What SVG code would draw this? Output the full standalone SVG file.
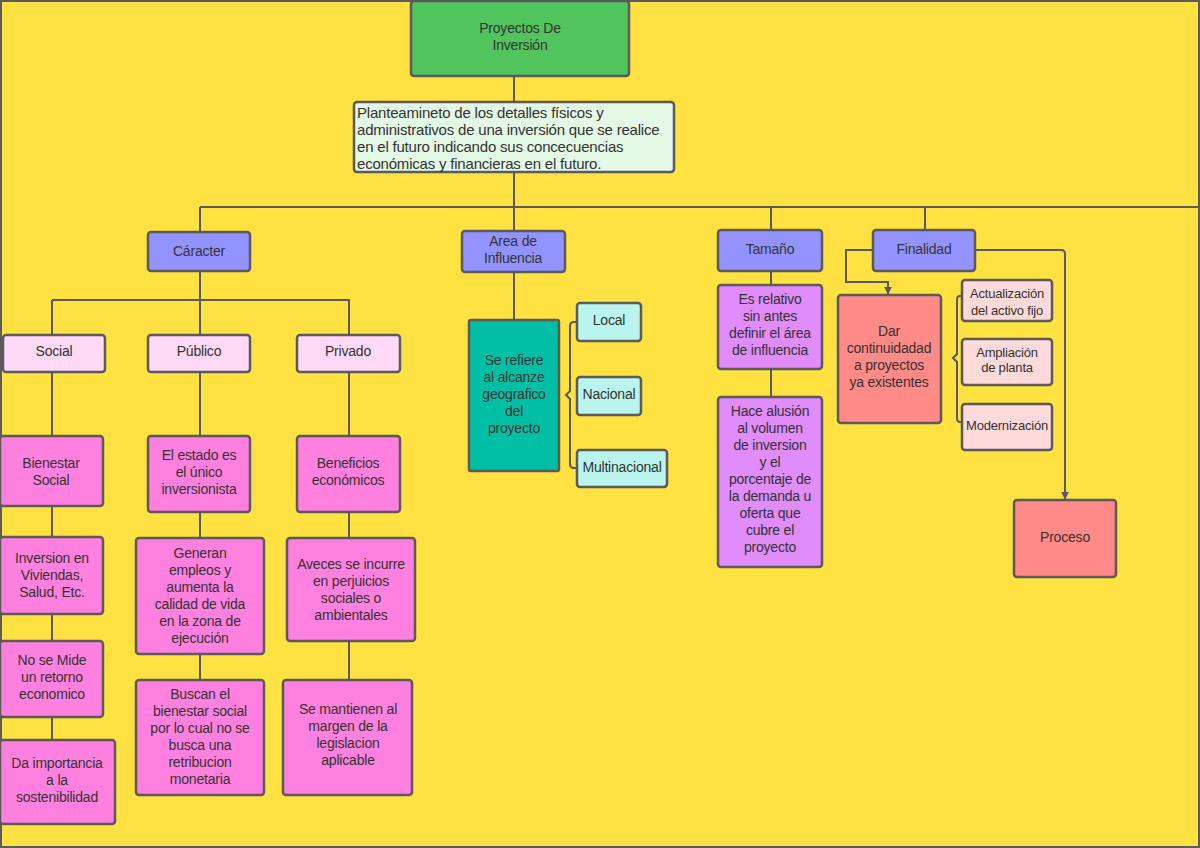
<svg xmlns="http://www.w3.org/2000/svg" width="1200" height="848" viewBox="0 0 1200 848">
<defs>
<marker id="ar" viewBox="0 0 10 10" refX="9" refY="5" markerWidth="8" markerHeight="8" orient="auto" markerUnits="userSpaceOnUse"><path d="M0,0 L10,5 L0,10 z" fill="#5a5a5a"/></marker>
<style>
.n{stroke:#5a5a5a;stroke-width:2.5}
.c{fill:none;stroke:#5a5a5a;stroke-width:2}
text{font-family:"Liberation Sans",Arial,sans-serif;font-size:14px;fill:#333;text-anchor:middle;letter-spacing:-0.2px}
.l{text-anchor:start;font-size:15px}
.g{fill:#52C45E}.d{fill:#E3F9E5}.b{fill:#9393FF}.p{fill:#FFD9F5}.m{fill:#FF80DF}.t{fill:#00BFA5}.lt{fill:#B9F5EC}.v{fill:#E08CFA}.r{fill:#FF8A87}.rl{fill:#FFDADA}
</style>
</defs>
<rect x="1" y="1" width="1198" height="846" fill="#FFE241" stroke="#5a5a5a" stroke-width="2"/>
<g id="connectors">
<path class="c" d="M514 76V102M514 172V207M200 207H1198M200 207V232M514 207V231M771 207V230M925 207V230"/>
<path class="c" d="M200 271V300M52 300H350M52 300V335M200 300V335M349 300V335"/>
<path class="c" d="M52 372V436M52 506V537M52 614V641M52 717V740"/>
<path class="c" d="M200 372V436M200 512V538M200 654V680"/>
<path class="c" d="M349 372V436M349 512V538M349 641V680"/>
<path class="c" d="M514 272V320"/>
<path class="c" d="M577 322H574Q570 322 570 326V391L566 395L570 399V464Q570 468 574 468H577"/>
<path class="c" d="M771 271V285M771 369V397"/>
<path class="c" d="M873 250H846V282H888V294" marker-end="url(#ar)"/>
<path class="c" d="M975 250H1061Q1065 250 1065 254V499" marker-end="url(#ar)"/>
<path class="c" d="M962 296H960Q957 296 957 300V354L953 358L957 362V418Q957 422 960 422H962"/>
</g>
<g id="root"><rect class="n g" x="411" y="1" width="218" height="75" rx="3"/><text x="520" y="33">Proyectos De</text><text x="520" y="50">Inversión</text></g>
<g id="desc"><rect class="n d" x="354" y="102" width="320" height="70" rx="3"/>
<text class="l" x="357" y="118">Planteamineto de los detalles físicos y</text>
<text class="l" x="357" y="135">administrativos de una inversión que se realice</text>
<text class="l" x="357" y="152">en el futuro indicando sus concecuencias</text>
<text class="l" x="357" y="169">económicas y  financieras en el futuro.</text></g>
<g id="caracter"><rect class="n b" x="148" y="232" width="102" height="39" rx="3"/><text x="199" y="256">Cáracter</text></g>
<g id="area"><rect class="n b" x="462" y="231" width="103" height="41" rx="3"/><text x="513" y="246">Area de</text><text x="513" y="263">Influencia</text></g>
<g id="tamano"><rect class="n b" x="718" y="230" width="104" height="41" rx="3"/><text x="770" y="254">Tamaño</text></g>
<g id="finalidad"><rect class="n b" x="873" y="230" width="102" height="41" rx="3"/><text x="924" y="254">Finalidad</text></g>
<g id="social"><rect class="n p" x="3" y="335" width="102" height="37" rx="3"/><text x="54" y="356">Social</text></g>
<g id="publico"><rect class="n p" x="148" y="335" width="102" height="37" rx="3"/><text x="199" y="356">Público</text></g>
<g id="privado"><rect class="n p" x="297" y="335" width="103" height="37" rx="3"/><text x="348" y="356">Privado</text></g>
<g id="bienestar"><rect class="n m" x="0" y="436" width="103" height="70" rx="3"/><text x="51" y="468">Bienestar</text><text x="51" y="485">Social</text></g>
<g id="inversion"><rect class="n m" x="0" y="537" width="103" height="77" rx="3"/><text x="52" y="563">Inversion en</text><text x="52" y="580">Viviendas,</text><text x="52" y="597">Salud, Etc.</text></g>
<g id="nomide"><rect class="n m" x="0" y="641" width="103" height="76" rx="3"/><text x="52" y="665">No se Mide</text><text x="52" y="682">un retorno</text><text x="52" y="699">economico</text></g>
<g id="importancia"><rect class="n m" x="0" y="740" width="115" height="84" rx="3"/><text x="57" y="768">Da importancia</text><text x="57" y="785">a la</text><text x="57" y="802">sostenibilidad</text></g>
<g id="estado"><rect class="n m" x="148" y="436" width="102" height="76" rx="3"/><text x="199" y="460">El estado es</text><text x="199" y="477">el único</text><text x="199" y="494">inversionista</text></g>
<g id="generan"><rect class="n m" x="136" y="538" width="128" height="116" rx="3"/><text x="200" y="558">Generan</text><text x="200" y="575">empleos y</text><text x="200" y="592">aumenta la</text><text x="200" y="609">calidad de vida</text><text x="200" y="626">en la zona de</text><text x="200" y="643">ejecución</text></g>
<g id="buscan"><rect class="n m" x="136" y="680" width="128" height="115" rx="3"/><text x="200" y="699">Buscan el</text><text x="200" y="716">bienestar social</text><text x="200" y="733">por lo cual no se</text><text x="200" y="750">busca una</text><text x="200" y="767">retribucion</text><text x="200" y="784">monetaria</text></g>
<g id="beneficios"><rect class="n m" x="297" y="436" width="103" height="76" rx="3"/><text x="348" y="468">Beneficios</text><text x="348" y="485">económicos</text></g>
<g id="aveces"><rect class="n m" x="287" y="538" width="128" height="103" rx="3"/><text x="351" y="569">Aveces se incurre</text><text x="351" y="586">en perjuicios</text><text x="351" y="603">sociales o</text><text x="351" y="620">ambientales</text></g>
<g id="mantienen"><rect class="n m" x="283" y="680" width="129" height="115" rx="3"/><text x="348" y="714">Se mantienen al</text><text x="348" y="731">margen de la</text><text x="348" y="748">legislacion</text><text x="348" y="765">aplicable</text></g>
<g id="refiere"><rect class="n t" x="469" y="320" width="90" height="151" rx="2"/><text x="514" y="365">Se refiere</text><text x="514" y="382">al alcanze</text><text x="514" y="399">geografico</text><text x="514" y="416">del</text><text x="514" y="433">proyecto</text></g>
<g id="local"><rect class="n lt" x="577" y="303" width="64" height="38" rx="3"/><text x="609" y="325">Local</text></g>
<g id="nacional"><rect class="n lt" x="577" y="377" width="64" height="38" rx="3"/><text x="609" y="399">Nacional</text></g>
<g id="multinacional"><rect class="n lt" x="577" y="450" width="90" height="37" rx="3"/><text x="622" y="472">Multinacional</text></g>
<g id="relativo"><rect class="n v" x="718" y="285" width="104" height="84" rx="3"/><text x="770" y="304">Es relativo</text><text x="770" y="321">sin antes</text><text x="770" y="338">definir el área</text><text x="770" y="355">de influencia</text></g>
<g id="alusion"><rect class="n v" x="718" y="397" width="104" height="170" rx="3"/><text x="770" y="416">Hace alusión</text><text x="770" y="433">al volumen</text><text x="770" y="450">de inversion</text><text x="770" y="467">y el</text><text x="770" y="484">porcentaje de</text><text x="770" y="501">la demanda u</text><text x="770" y="518">oferta que</text><text x="770" y="535">cubre el</text><text x="770" y="552">proyecto</text></g>
<g id="dar"><rect class="n r" x="838" y="295" width="103" height="128" rx="3"/><text x="889" y="336">Dar</text><text x="889" y="353">continuidadad</text><text x="889" y="370">a proyectos</text><text x="889" y="387">ya existentes</text></g>
<g id="actualizacion"><rect class="n rl" x="962" y="280" width="90" height="41" rx="3"/><text x="1007" y="298" style="font-size:13px">Actualización</text><text x="1007" y="315" style="font-size:13px">del activo fijo</text></g>
<g id="ampliacion"><rect class="n rl" x="962" y="339" width="90" height="46" rx="3"/><text x="1007" y="357" style="font-size:13px">Ampliación</text><text x="1007" y="372" style="font-size:13px">de planta</text></g>
<g id="modernizacion"><rect class="n rl" x="962" y="404" width="90" height="46" rx="3"/><text x="1007" y="430" style="font-size:13px">Modernización</text></g>
<g id="proceso"><rect class="n r" x="1014" y="500" width="102" height="77" rx="3"/><text x="1065" y="542">Proceso</text></g>
</svg>
